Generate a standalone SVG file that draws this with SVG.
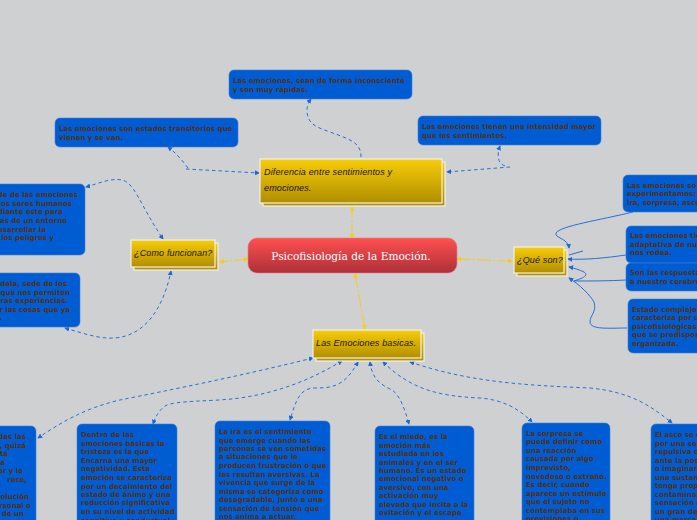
<svg xmlns="http://www.w3.org/2000/svg" width="697" height="520" viewBox="0 0 697 520">
<style>
.b{fill:#005cd2;stroke:#3f7fd0;stroke-width:.6}
.t{font:bold 7px "DejaVu Sans",sans-serif;fill:#55300f}
.e{text-anchor:end}
.y{fill:url(#gy);stroke:#f1f1f1;stroke-width:1.2}
.yt{font:italic 9px "Liberation Sans",sans-serif;fill:#1a1400;letter-spacing:.15px}
.c{fill:none;stroke:#2a6fd6;stroke-width:1;stroke-dasharray:3.5 3;marker-start:url(#ab);marker-end:url(#ab)}
.s{fill:none;stroke:#2a6fd6;stroke-width:1;marker-end:url(#ab)}
.g{fill:none;stroke:#f7cc1a;stroke-width:1;stroke-dasharray:14 2 2 2;marker-start:url(#ag);marker-end:url(#ag)}
</style>
<defs>
<linearGradient id="gy" x1="0" y1="0" x2="0" y2="1"><stop offset="0" stop-color="#f8cd08"/><stop offset="1" stop-color="#b18e00"/></linearGradient>
<linearGradient id="gr" x1="0" y1="0" x2="0" y2="1"><stop offset="0" stop-color="#ff5050"/><stop offset="1" stop-color="#ad3038"/></linearGradient>
<marker id="ab" viewBox="0 0 6 6" refX="5" refY="3" markerWidth="5" markerHeight="5" orient="auto-start-reverse" markerUnits="userSpaceOnUse"><path d="M0 0L6 3L0 6Z" fill="#1f66d0"/></marker>
<marker id="ag" viewBox="0 0 6 6" refX="5" refY="3" markerWidth="5" markerHeight="5" orient="auto-start-reverse" markerUnits="userSpaceOnUse"><path d="M0 0L6 3L0 6Z" fill="#f7cc1a"/></marker>
</defs>
<rect width="697" height="520" fill="#cfd0d2"/>
<g id="connectors">
<path class="g" d="M352 238L352 207"/>
<path class="g" d="M248 259L220 262"/>
<path class="g" d="M457 259L512 261"/>
<path class="g" d="M355 274L365 329"/>
<path class="c" style="marker-start:none" d="M186 169L259 173"/>
<path class="c" style="marker-start:none" d="M188 168C182 160 176 153 168 147"/>
<path class="c" style="marker-start:none" d="M361 157C361 143 352 140 330 132C316 127 307 124 307 110Q307 104 311 99"/>
<path class="c" style="marker-start:none" d="M510 167L447 172"/>
<path class="c" style="marker-start:none" d="M505 166C497 163 497 154 500 146"/>
<path class="c" d="M86 187C100 183 110 178 122 180C135 183 140 205 163 239"/>
<path class="c" d="M65 328C85 334 100 339 115 338C150 335 165 300 171 271"/>
<path class="s" d="M633 212C600 220 560 226 556 233C554 238 568 238 569 248"/>
<path class="s" d="M626 255C605 258 585 260 568 259"/>
<path class="s" style="marker-end:none" d="M583 251L569 255"/>
<path class="s" d="M626 280C610 281 590 281 574 281C580 279 590 276 584 272C580 270 574 268 569 267"/>
<path class="s" d="M627 328C610 328 590 330 590 322C590 315 597 312 594 302C590 295 580 285 569 278"/>
<path class="c" d="M313 358C240 376 170 390 120 400C85 408 60 423 38 438"/>
<path class="c" d="M342 361C310 380 280 392 240 398C210 402 175 400 165 406Q157 412 153 424"/>
<path class="c" d="M358 362C345 385 335 388 315 388C300 388 296 400 290 420"/>
<path class="c" d="M370 362C372 380 382 385 392 390C400 395 405 410 409 424"/>
<path class="c" d="M383 362C410 388 435 396 480 398C505 400 520 410 532 422"/>
<path class="c" d="M410 362C470 382 520 385 590 388C630 392 650 405 672 423"/>
</g>
<g id="n-top"><rect class="b" x="229" y="70" width="183" height="29" rx="5"/><text class="t"><tspan x="233" y="83">Las emociones, sean de forma inconsciente</tspan><tspan x="233" y="92">y son muy rápidas.</tspan></text></g>
<g id="n-left"><rect class="b" x="55" y="118" width="183" height="29" rx="5"/><text class="t"><tspan x="59" y="131">Las emociones son estados transitorios que</tspan><tspan x="59" y="140">vienen y se van.</tspan></text></g>
<g id="n-right"><rect class="b" x="418" y="116" width="183" height="29" rx="5"/><text class="t"><tspan x="422" y="129">Las emociones tienen una intensidad mayor</tspan><tspan x="422" y="138">que los sentimientos.</tspan></text></g>
<g id="n-l1"><rect class="b" x="-20" y="184" width="105" height="71" rx="5"/><text class="t e"><tspan x="78" y="197">de de las emociones</tspan><tspan x="72" y="206">ros seres humanos</tspan><tspan x="63" y="214">diante este para</tspan><tspan x="67" y="223">las de un entorno</tspan><tspan x="46" y="232">esarrollar la</tspan><tspan x="54" y="240">los peligros y</tspan></text></g>
<g id="n-l2"><rect class="b" x="-20" y="273" width="100" height="54" rx="5"/><text class="t e"><tspan x="67" y="286">dala, sede de los</tspan><tspan x="70" y="295">que nos permiten</tspan><tspan x="68" y="303">cras experiencias.</tspan><tspan x="70" y="312">r las cosas que ya</tspan><tspan x="2" y="320">.</tspan></text></g>
<g id="n-dif"><rect class="y" x="263" y="162" width="182" height="44"/><rect class="y" x="260" y="159" width="182" height="44"/><text class="yt"><tspan x="264" y="175">Diferencia entre sentimientos y</tspan><tspan x="264" y="191">emociones.</tspan></text></g>
<g id="n-como"><rect class="y" x="134" y="243" width="84" height="27"/><rect class="y" x="131" y="240" width="84" height="27"/><text class="yt" x="134" y="256">¿Como funcionan?</text></g>
<g id="n-que"><rect class="y" x="517" y="250" width="50" height="26"/><rect class="y" x="514" y="247" width="50" height="26"/><text class="yt" x="517" y="263">¿Qué son?</text></g>
<g id="n-bas"><rect class="y" x="316" y="333" width="108" height="28"/><rect class="y" x="313" y="330" width="108" height="28"/><text class="yt" x="316" y="346">Las Emociones basicas.</text></g>
<g id="n-center"><rect x="248" y="238" width="209" height="35" rx="9" fill="url(#gr)" stroke="#e08088" stroke-width=".6"/><text x="351" y="260" text-anchor="middle" font-family="DejaVu Serif,serif" font-size="10.6" fill="#fff">Psicofisiología de la Emoción.</text></g>
<g id="n-r1"><rect class="b" x="623" y="175" width="90" height="37" rx="5"/><text class="t"><tspan x="627" y="188">Las emociones so</tspan><tspan x="627" y="196">experimentamos:</tspan><tspan x="627" y="205">ira, sorpresa, asco</tspan></text></g>
<g id="n-r2"><rect class="b" x="626" y="226" width="90" height="37" rx="5"/><text class="t"><tspan x="630" y="238">Las emociones tie</tspan><tspan x="630" y="247">adaptativa de nue</tspan><tspan x="630" y="255">nos rodea.</tspan></text></g>
<g id="n-r3"><rect class="b" x="626" y="263" width="90" height="28" rx="5"/><text class="t"><tspan x="630" y="275">Son las respuesta</tspan><tspan x="630" y="284">a nuestro cerebro</tspan></text></g>
<g id="n-r4"><rect class="b" x="628" y="299" width="90" height="54" rx="5"/><text class="t"><tspan x="632" y="312">Estado complejo</tspan><tspan x="632" y="320">caracteriza por u</tspan><tspan x="632" y="329">psicofisiológicas,</tspan><tspan x="632" y="337">que se predispon</tspan><tspan x="632" y="346">organizada.</tspan></text></g>
<g id="n-a"><rect class="b" x="-20" y="426" width="56" height="110" rx="5"/><text class="t e"><tspan x="26" y="439">das las</tspan><tspan x="26" y="448">, quizá</tspan><tspan x="8" y="456">tá</tspan><tspan x="5" y="465">ra</tspan><tspan x="23" y="473">er y la</tspan><tspan x="27" y="482">rece,</tspan><tspan x="29" y="499">solución</tspan><tspan x="31" y="508">rsonal o</tspan><tspan x="24" y="516">de un</tspan></text></g>
<g id="n-b"><rect class="b" x="77" y="424" width="100" height="110" rx="5"/><text class="t"><tspan x="81" y="437">Dentro de las</tspan><tspan x="81" y="446">emociones básicas la</tspan><tspan x="81" y="454">tristeza es la que</tspan><tspan x="81" y="463">Encarna una mayor</tspan><tspan x="81" y="471">negatividad. Esta</tspan><tspan x="81" y="480">emoción se caracteriza</tspan><tspan x="81" y="489">por un decaimiento del</tspan><tspan x="81" y="497">estado de ánimo y una</tspan><tspan x="81" y="505">reducción significativa</tspan><tspan x="81" y="514">en su nivel de actividad</tspan><tspan x="81" y="523">cognitiva y conductual</tspan></text></g>
<g id="n-c"><rect class="b" x="215" y="421" width="115" height="110" rx="5"/><text class="t"><tspan x="219" y="434">La ira es el sentimiento</tspan><tspan x="219" y="443">que emerge cuando las</tspan><tspan x="219" y="451">personas se ven sometidas</tspan><tspan x="219" y="459">a situaciones que le</tspan><tspan x="219" y="468">producen frustración o que</tspan><tspan x="219" y="477">les resultan aversivas. La</tspan><tspan x="219" y="485">vivencia que surge de la</tspan><tspan x="219" y="494">misma se categoriza como</tspan><tspan x="219" y="502">desagradable, junto a una</tspan><tspan x="219" y="511">sensación de tensión que</tspan><tspan x="219" y="519">nos anima a actuar.</tspan></text></g>
<g id="n-d"><rect class="b" x="375" y="426" width="99" height="110" rx="5"/><text class="t"><tspan x="379" y="439">Es el miedo, es la</tspan><tspan x="379" y="448">emoción más</tspan><tspan x="379" y="456">estudiada en los</tspan><tspan x="379" y="465">animales y en el ser</tspan><tspan x="379" y="473">humano. Es un estado</tspan><tspan x="379" y="481">emocional negativo o</tspan><tspan x="379" y="490">aversivo, con una</tspan><tspan x="379" y="498">activación muy</tspan><tspan x="379" y="507">elevada que incita a la</tspan><tspan x="379" y="515">evitación y el escape</tspan></text></g>
<g id="n-e"><rect class="b" x="522" y="423" width="88" height="110" rx="5"/><text class="t"><tspan x="526" y="436">La sorpresa se</tspan><tspan x="526" y="444">puede definir como</tspan><tspan x="526" y="453">una reacción</tspan><tspan x="526" y="461">causada por algo</tspan><tspan x="526" y="470">imprevisto,</tspan><tspan x="526" y="479">novedoso o extraño.</tspan><tspan x="526" y="487">Es decir, cuando</tspan><tspan x="526" y="496">aparece un estímulo</tspan><tspan x="526" y="504">que el sujeto no</tspan><tspan x="526" y="513">contemplaba en sus</tspan><tspan x="526" y="521">previsiones o</tspan></text></g>
<g id="n-f"><rect class="b" x="651" y="424" width="90" height="110" rx="5"/><text class="t"><tspan x="655" y="437">El asco se c</tspan><tspan x="655" y="446">por una sen</tspan><tspan x="655" y="454">repulsiva o</tspan><tspan x="655" y="463">ante la pos</tspan><tspan x="655" y="471">o imaginar</tspan><tspan x="655" y="480">una sustan</tspan><tspan x="655" y="488">tenga prop</tspan><tspan x="655" y="497">contaminar</tspan><tspan x="655" y="505">sensación a</tspan><tspan x="655" y="514">un gran de</tspan><tspan x="655" y="522">una marca</tspan></text></g>
</svg>
